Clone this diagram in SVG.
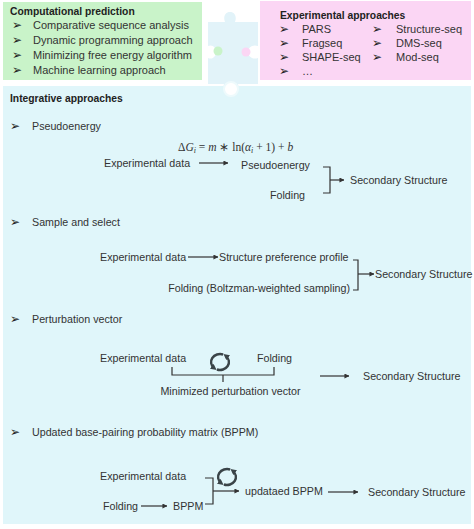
<svg xmlns="http://www.w3.org/2000/svg" width="474" height="529" viewBox="0 0 474 529">
<style>
.t{font-family:"Liberation Sans",Arial,sans-serif;font-size:10.7px;fill:#333}
.tt{font-family:"Liberation Sans",Arial,sans-serif;font-size:11px;fill:#333}
.b{font-family:"Liberation Sans",Arial,sans-serif;font-size:10.3px;font-weight:bold;fill:#222}
.bl{font-family:"DejaVu Sans",sans-serif;font-size:12px;fill:#222}
.ln{fill:none;stroke:#333;stroke-width:1.2}
.ar{fill:none;stroke:#333;stroke-width:1.2;marker-end:url(#ah)}
.cy{fill:none;stroke:#3a4448;stroke-width:2.4;marker-end:url(#ch)}
.f{font-family:"Liberation Serif","Times New Roman",serif;font-size:11.5px;fill:#333}
</style>
<defs>
<marker id="ah" viewBox="0 0 6 6" refX="5.5" refY="3" markerWidth="5" markerHeight="5" markerUnits="userSpaceOnUse" orient="auto">
<path d="M0,0 L6,3 L0,6 Z" fill="#333"/>
</marker>
<marker id="ch" viewBox="0 0 6 6" refX="3" refY="3" markerWidth="6" markerHeight="6" markerUnits="userSpaceOnUse" orient="auto">
<path d="M0,0 L6,3 L0,6 Z" fill="#3a4448"/>
</marker>
</defs>

<g id="background">
<rect x="0" y="0" width="474" height="529" fill="#ffffff"/>
<path d="M208,22 L225,22 C223,17 225,12 230,12 C235,12 237,17 235,22 L258,22 L258,46 C252,44 248,48 248,52 C248,56 252,60 258,58 L258,84 L238,84 C240,90 237,96 231,96 C225,96 222,90 224,84 L208,84 L208,58 C213,60 216,56 216,52 C216,48 213,44 208,46 Z" fill="#e2f3f9"/>
<rect x="3" y="86" width="468" height="438" fill="#e0f6fa"/>
<circle cx="231" cy="89" r="7" fill="#ffffff" stroke="#eefafc" stroke-width="2"/>
<rect x="3" y="2" width="199" height="78" fill="#c9f3c9"/>
<circle cx="218" cy="51" r="4.5" fill="#c9f3c9"/>
<rect x="260" y="1" width="211" height="79" fill="#fbd6f4"/>
<circle cx="246" cy="52" r="4.5" fill="#fbd6f4"/>
</g>

<g id="computational">
<text class="b" x="10" y="15">Computational prediction</text>
<text class="bl" x="12" y="29">➢</text><text class="tt" x="33" y="29">Comparative sequence analysis</text>
<text class="bl" x="12" y="44">➢</text><text class="tt" x="33" y="44">Dynamic programming approach</text>
<text class="bl" x="12" y="59">➢</text><text class="tt" x="33" y="59">Minimizing free energy algorithm</text>
<text class="bl" x="12" y="74">➢</text><text class="tt" x="33" y="74">Machine learning approach</text>
</g>

<g id="experimental">
<text class="b" x="280" y="19">Experimental approaches</text>
<text class="bl" x="279" y="33">➢</text><text class="tt" x="302" y="33">PARS</text>
<text class="bl" x="279" y="47">➢</text><text class="tt" x="302" y="47">Fragseq</text>
<text class="bl" x="279" y="61">➢</text><text class="tt" x="302" y="61">SHAPE-seq</text>
<text class="bl" x="279" y="75">➢</text><text class="tt" x="302" y="75">…</text>
<text class="bl" x="372" y="33">➢</text><text class="tt" x="396" y="33">Structure-seq</text>
<text class="bl" x="372" y="47">➢</text><text class="tt" x="396" y="47">DMS-seq</text>
<text class="bl" x="372" y="61">➢</text><text class="tt" x="396" y="61">Mod-seq</text>
</g>

<g id="integrative-title"><text class="b" x="10" y="102">Integrative approaches</text></g>

<g id="pseudoenergy">
<text class="bl" x="10" y="130">➢</text><text class="t" x="32" y="130">Pseudoenergy</text>
<text class="f" x="178" y="151">Δ<tspan font-style="italic">G</tspan><tspan font-style="italic" font-size="8" dy="2">i</tspan><tspan dy="-2"> = </tspan><tspan font-style="italic">m</tspan> ∗ ln(<tspan font-style="italic">α</tspan><tspan font-style="italic" font-size="8" dy="2">i</tspan><tspan dy="-2"> + 1) + </tspan><tspan font-style="italic">b</tspan></text>
<text class="t" x="104" y="167">Experimental data</text>
<text class="t" x="241" y="169">Pseudoenergy</text>
<text class="t" x="270" y="199">Folding</text>
<text class="t" x="350" y="184">Secondary Structure</text>
</g>

<g id="sample-select">
<text class="bl" x="10" y="226">➢</text><text class="t" x="32" y="226">Sample and select</text>
<text class="t" x="100" y="261">Experimental data</text>
<text class="t" x="219" y="261">Structure preference profile</text>
<text class="t" x="350" y="292" text-anchor="end">Folding (Boltzman-weighted sampling)</text>
<text class="t" x="375" y="278">Secondary Structure</text>
</g>

<g id="perturbation">
<text class="bl" x="10" y="323">➢</text><text class="t" x="32" y="323">Perturbation vector</text>
<text class="t" x="100" y="362">Experimental data</text>
<text class="t" x="257" y="362">Folding</text>
<text class="t" x="230.5" y="395" text-anchor="middle">Minimized perturbation vector</text>
<text class="t" x="363" y="380">Secondary Structure</text>
</g>

<g id="bppm">
<text class="bl" x="10" y="436">➢</text><text class="t" x="32" y="436">Updated base-pairing probability matrix (BPPM)</text>
<text class="t" x="100" y="480">Experimental data</text>
<text class="t" x="103" y="510">Folding</text>
<text class="t" x="173" y="510">BPPM</text>
<text class="t" x="245" y="495">updataed BPPM</text>
<text class="t" x="368" y="496">Secondary Structure</text>
</g>

<g id="connectors">
<line class="ar" x1="199" y1="163" x2="228" y2="163"/>
<path class="ln" d="M323,167 H330 V193 H323"/>
<line class="ar" x1="330" y1="180" x2="344" y2="180"/>

<line class="ar" x1="188" y1="257" x2="218" y2="257"/>
<path class="ln" d="M353,260 H358 V290 H353"/>
<line class="ar" x1="358" y1="274" x2="374" y2="274"/>

<path class="ln" d="M172,367 V375 H274 V367 M223,375 V382"/>
<line class="ar" x1="320" y1="376" x2="349" y2="376"/>

<path class="ln" d="M205,478 H213 V504 H205"/>
<line class="ar" x1="213" y1="491" x2="239" y2="491"/>
<line class="ar" x1="141" y1="506" x2="167" y2="506"/>
<line class="ar" x1="328" y1="492" x2="358" y2="492"/>

<g id="cycle1">
<path class="cy" d="M223.1,354.5 A9,8 0 0 0 214.2,368.1"/>
<path class="cy" d="M216.9,369.5 A9,8 0 0 0 225.8,355.9"/>
</g>
<g id="cycle2">
<path class="cy" d="M230.1,469.5 A9,8 0 0 0 221.2,483.1"/>
<path class="cy" d="M223.9,484.5 A9,8 0 0 0 232.8,470.9"/>
</g>
</g>
</svg>
